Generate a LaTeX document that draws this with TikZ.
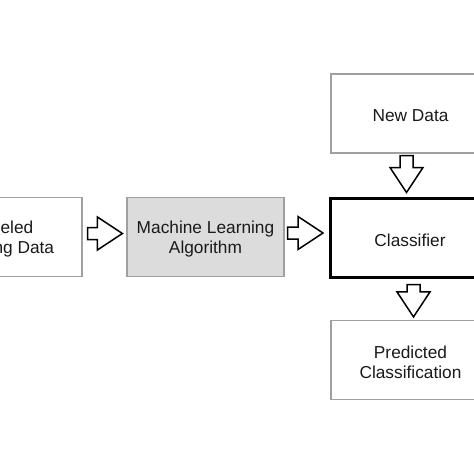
\documentclass[tikz,border=0pt]{standalone}
\usepackage{fontspec}
\setmainfont{Liberation Sans}
\usetikzlibrary{calc}
\definecolor{boxgray}{HTML}{A0A0A0}
\definecolor{mlgray}{HTML}{DCDCDC}
\definecolor{textcol}{HTML}{1A1A1A}
\begin{document}
\begin{tikzpicture}[x=1pt,y=-1pt,
  box/.style={draw=boxgray, line width=1.2pt, minimum width=159pt, minimum height=79pt,
    inner sep=0pt, label={[txt]center:#1}},
  txt/.style={align=center, inner sep=0pt, yshift=-2.5pt,
    font=\fontsize{17.3}{20}\selectfont, text=textcol},
  barrow/.style={draw=black, fill=white, line width=1.5pt, line join=miter,
    to path={let \p1=(\tikztostart), \p2=(\tikztotarget) in
      (\x1,\y1+6pt) -- (\x2-25pt,\y1+6pt) -- (\x2-25pt,\y1+16.5pt) -- (\x2,\y1)
      -- (\x2-25pt,\y1-16.5pt) -- (\x2-25pt,\y1-6pt) -- (\x1,\y1-6pt) -- cycle}},
  darrow/.style={draw=black, fill=white, line width=1.5pt, line join=miter,
    to path={let \p1=(\tikztostart), \p2=(\tikztotarget) in
      (\x1-6.5pt,\y1) -- (\x1-6.5pt,\y2+25pt) -- (\x1-16.5pt,\y2+25pt) -- (\x1,\y2)
      -- (\x1+16.5pt,\y2+25pt) -- (\x1+6.5pt,\y2+25pt) -- (\x1+6.5pt,\y1) -- cycle}}
]
\useasboundingbox (0,0) rectangle (474,474);
\fill[white] (0,0) rectangle (474,474);
\clip (0,0) rectangle (474,474);

\node[box={Labeled\\Training Data}] (lab) at (2.5,237) {};
\node[box={Machine Learning\\Algorithm}, fill=mlgray, minimum width=157pt] (mla) at (205.5,237) {};
\node[box={Classifier}, draw=black, line width=3pt] (cls) at (410,237.5) {};
\node[box={New Data}] (new) at (410.5,113.5) {};
\node[box={Predicted\\Classification}] (pred) at (410.5,360) {};

\draw[barrow] ($(lab.east)+(5,-3.5)$) to ($(mla.west)+(-4,-3.5)$);
\draw[barrow] ($(mla.east)+(3,-4)$) to ($(cls.west)+(-6,-4)$);
\draw[darrow] ($(new.south)+(-4,2)$) to ($(cls.north)+(-4,-4)$);
\draw[darrow] ($(cls.south)+(3.5,6)$) to ($(pred.north)+(3,-3)$);
\end{tikzpicture}
\end{document}
